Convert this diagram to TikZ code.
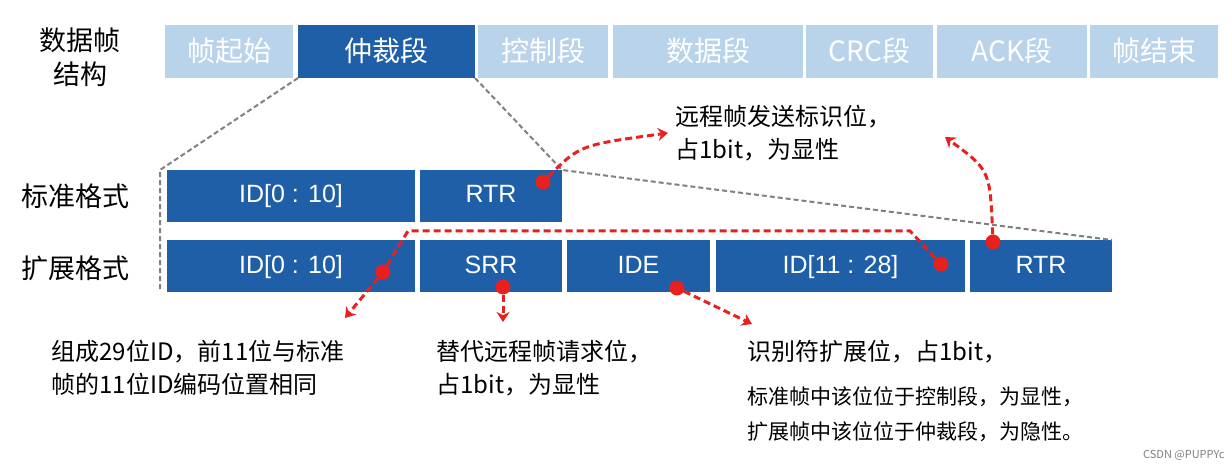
\documentclass[tikz,border=0pt]{standalone}
\usepackage{fontspec}
\setmainfont{Noto Sans CJK SC}
\newfontfamily\arialf{Liberation Sans}
\usetikzlibrary{arrows.meta}
\definecolor{lb}{HTML}{B9D3EA}
\definecolor{db}{HTML}{1F5FA8}
\definecolor{rd}{HTML}{E8201E}
\begin{document}
\begin{tikzpicture}[x=1pt,y=-1pt,
  seg/.style={text=white,font=\fontsize{28}{30}\selectfont},
  fld/.style={text=white,font=\fontsize{25}{26}\arialf,text height=18pt,text depth=4pt},
  lbl/.style={font=\fontsize{27}{34}\selectfont,align=center},
  txt/.style={font=\fontsize{24}{33}\selectfont,anchor=west,align=left},
  stxt/.style={font=\fontsize{21}{35}\selectfont,anchor=west,align=left},
  gd/.style={gray,dash pattern=on 5pt off 3pt,line width=2pt},
  rl/.style={rd,dash pattern=on 7pt off 4pt,line width=3pt},
  ra/.style={rl,-{Stealth[length=10pt,width=13pt]}},
  dot/.style={circle,fill=rd,inner sep=0pt,minimum size=15pt}]
\useasboundingbox (0,0) rectangle (1231,470);
\fill[white] (0,0) rectangle (1231,470);
\node[lbl] (t) at (80,57) {数据帧\\结构};
\foreach \n/\a/\b/\s in {s1/165/293/帧起始,s3/478/608/控制段,s4/613/803/数据段,s5/806/933/CRC段,s6/937/1087/ACK段,s7/1090/1218/帧结束}{
  \path[fill=lb] (\a,25) rectangle (\b,78);
  \node[seg] (\n) at ({(\a+\b)/2},51) {\s};}
\path[fill=db] (298,25) rectangle (475,78);
\node[seg] (s2) at (386,51) {仲裁段};
\node[lbl] (std) at (75,196) {标准格式};
\node[lbl] (ext) at (75,268) {扩展格式};
\foreach \n/\a/\b/\y/\s in {a1/167/415/170/{ID[0 : 10]},a2/420/562/170/RTR,
  b1/167/415/240/{ID[0 : 10]},b2/420/562/240/SRR,b3/567/710/240/IDE,b4/716/965/240/{ID[11 : 28]},b5/970/1112/240/RTR}{
  \path[fill=db] (\a,\y) rectangle (\b,\y+52);
  \node[fld] (\n) at ({(\a+\b)/2},\y+26) {\s};}
\coordinate (g1) at (298,78); \coordinate (g2) at (160,170); \coordinate (g3) at (160,292);
\coordinate (g4) at (475,78); \coordinate (g5) at (562,170); \coordinate (g6) at (1112,240);
\draw[gd] (g1) -- (g2) -- (g3);
\draw[gd] (g4) -- (g5) -- (g6);
\node[dot] (d1) at (543,182) {};
\node[dot] (d2) at (993,242) {};
\node[dot] (d3) at (383,272) {};
\node[dot] (d4) at (941,264) {};
\node[dot] (d5) at (503,287) {};
\node[dot] (d6) at (677,288) {};
\coordinate (e1) at (668,133); \coordinate (e2) at (945,137);
\coordinate (e3) at (345,318); \coordinate (e5) at (503,322); \coordinate (e6) at (752,324);
\draw[ra] (d1) .. controls (580,145) .. (e1);
\draw[ra] (d2) .. controls (990,170) .. (e2);
\draw[rl] (d3) -- (408,231) -- (910,231) -- (d4);
\draw[ra] (d3) -- (e3);
\draw[ra] (d5) -- (e5);
\draw[ra] (d6) -- (e6);
\node[txt] (n1) at (672,133) {远程帧发送标识位，\\占1bit，为显性};
\node[txt] (n2) at (48,368) {组成29位ID，前11位与标准\\帧的11位ID编码位置相同};
\node[txt] (n3) at (433,368) {替代远程帧请求位，\\占1bit，为显性};
\node[txt] (n4) at (744,352) {识别符扩展位，占1bit，};
\node[stxt] (n5) at (744,414) {标准帧中该位位于控制段，为显性，\\扩展帧中该位位于仲裁段，为隐性。};
\node[font=\fontsize{11}{12}\selectfont,text=gray,anchor=east] (c) at (1228,455) {CSDN @PUPPYc};
\end{tikzpicture}
\end{document}
